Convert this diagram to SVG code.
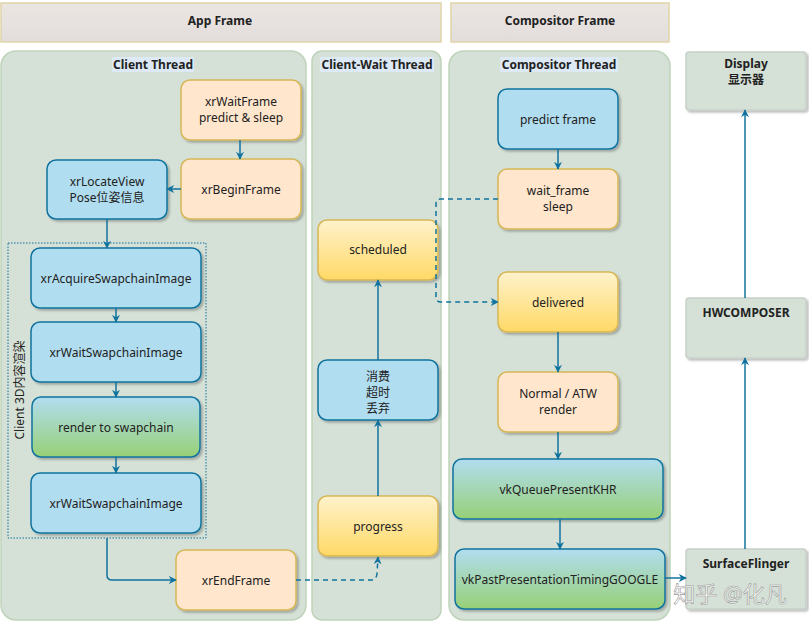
<svg xmlns="http://www.w3.org/2000/svg" width="809" height="625" viewBox="0 0 809 625">
<defs>
  <linearGradient id="gYellow" x1="0" y1="0" x2="0" y2="1"><stop offset="0" stop-color="#fff2cc"/><stop offset="1" stop-color="#ffd966"/></linearGradient>
  <linearGradient id="gGreen" x1="0" y1="0" x2="0" y2="1"><stop offset="0" stop-color="#b1ddf0"/><stop offset="1" stop-color="#97d077"/></linearGradient>
  <linearGradient id="gFrame" x1="0" y1="0" x2="0" y2="1"><stop offset="0" stop-color="#ece6e2"/><stop offset="1" stop-color="#e2dcdc"/></linearGradient>
  <filter id="sh" x="-10%" y="-10%" width="130%" height="130%"><feDropShadow dx="2" dy="2" stdDeviation="1.2" flood-color="#000" flood-opacity="0.25"/></filter>
  <marker id="ah" viewBox="0 0 10 10" refX="9" refY="5" markerWidth="8" markerHeight="8" markerUnits="userSpaceOnUse" orient="auto"><path d="M0,0 L10,5 L0,10 L3,5 Z" fill="#10739e"/></marker>
</defs>
<style>
  text{font-family:"Noto Sans","Noto Sans CJK SC",sans-serif;font-size:12px;fill:#222;text-anchor:middle;}
  .b{font-weight:bold;}
  .frame{fill:url(#gFrame);stroke:#e0d4a8;stroke-width:1.5;}
  .lane{fill:#d5e0d6;stroke:#bfd3bb;stroke-width:1.5;}
  .orange{fill:#ffe6cc;stroke:#d6b656;stroke-width:1.5;filter:url(#sh);}
  .yellow{fill:url(#gYellow);stroke:#d6b656;stroke-width:1.5;filter:url(#sh);}
  .blue{fill:#b1ddf0;stroke:#10739e;stroke-width:1.5;filter:url(#sh);}
  .green{fill:url(#gGreen);stroke:#10739e;stroke-width:1.5;filter:url(#sh);}
  .grey{fill:#d5e0d6;stroke:#c8cfc8;stroke-width:1.5;filter:url(#sh);}
  .c{fill:none;stroke:#10739e;stroke-width:1.5;marker-end:url(#ah);}
  .d{stroke-dasharray:5,4;}
  .tbg{fill:#dde9f5;}
</style>

<g id="app-frame"><rect class="frame" x="1" y="3" width="440" height="39"/><text class="b" x="220" y="25">App Frame</text></g>
<g id="compositor-frame"><rect class="frame" x="451" y="3" width="218" height="39"/><text class="b" x="560" y="25">Compositor Frame</text></g>

<g id="client-thread"><rect class="lane" x="1" y="51" width="305" height="569" rx="15"/><rect class="tbg" x="112" y="57" width="82" height="15"/><text class="b" x="153" y="69">Client Thread</text></g>
<g id="client-wait-thread"><rect class="lane" x="312" y="51" width="129" height="569" rx="10"/><rect class="tbg" x="320" y="57" width="114" height="15"/><text class="b" x="377" y="69">Client-Wait Thread</text></g>
<g id="compositor-thread"><rect class="lane" x="449" y="51" width="221" height="569" rx="15"/><rect class="tbg" x="500" y="57" width="118" height="15"/><text class="b" x="559" y="69">Compositor Thread</text></g>

<g id="client-3d-group"><rect x="8" y="243" width="198" height="295" fill="none" stroke="#10739e" stroke-width="1" stroke-dasharray="1.5,1.5"/><text x="0" y="0" transform="translate(24,390) rotate(-90)">Client 3D内容渲染</text></g>

<g id="xrWaitFrame"><rect class="orange" x="181" y="80" width="120" height="60" rx="9"/><text x="241" y="106">xrWaitFrame</text><text x="241" y="122">predict &amp; sleep</text></g>
<g id="xrBeginFrame"><rect class="orange" x="181" y="159" width="120" height="60" rx="9"/><text x="241" y="194">xrBeginFrame</text></g>
<g id="xrLocateView"><rect class="blue" x="47" y="160" width="120" height="59" rx="9"/><text x="107" y="186">xrLocateView</text><text x="107" y="202">Pose位姿信息</text></g>
<g id="xrAcquireSwapchainImage"><rect class="blue" x="31" y="248" width="170" height="60" rx="9"/><text x="116" y="283">xrAcquireSwapchainImage</text></g>
<g id="xrWaitSwapchainImage1"><rect class="blue" x="31" y="322" width="170" height="60" rx="9"/><text x="116" y="357">xrWaitSwapchainImage</text></g>
<g id="render-to-swapchain"><rect class="green" x="32" y="397" width="168" height="60" rx="9"/><text x="116" y="432">render to swapchain</text></g>
<g id="xrWaitSwapchainImage2"><rect class="blue" x="31" y="473" width="170" height="60" rx="9"/><text x="116" y="508">xrWaitSwapchainImage</text></g>
<g id="xrEndFrame"><rect class="orange" x="176" y="550" width="120" height="60" rx="9"/><text x="236" y="585">xrEndFrame</text></g>

<g id="scheduled"><rect class="yellow" x="318" y="220" width="120" height="60" rx="9"/><text x="378" y="254">scheduled</text></g>
<g id="consume"><rect class="blue" x="318" y="360" width="120" height="60" rx="9"/><text x="378" y="381">消费</text><text x="378" y="397">超时</text><text x="378" y="413">丢弃</text></g>
<g id="progress"><rect class="yellow" x="318" y="496" width="120" height="60" rx="9"/><text x="378" y="531">progress</text></g>

<g id="predict-frame"><rect class="blue" x="498" y="89" width="120" height="60" rx="9"/><text x="558" y="124">predict frame</text></g>
<g id="wait-frame"><rect class="orange" x="498" y="169" width="120" height="60" rx="9"/><text x="558" y="195">wait_frame</text><text x="558" y="211">sleep</text></g>
<g id="delivered"><rect class="yellow" x="498" y="272" width="120" height="60" rx="9"/><text x="558" y="307">delivered</text></g>
<g id="normal-atw"><rect class="orange" x="498" y="372" width="120" height="60" rx="9"/><text x="558" y="398">Normal / ATW</text><text x="558" y="414">render</text></g>
<g id="vkQueuePresentKHR"><rect class="green" x="453" y="459" width="210" height="60" rx="9"/><text x="558" y="494">vkQueuePresentKHR</text></g>
<g id="vkPastPresentationTimingGOOGLE"><rect class="green" x="455" y="549" width="210" height="60" rx="9"/><text x="560" y="584">vkPastPresentationTimingGOOGLE</text></g>

<g id="display"><rect class="grey" x="686" y="52" width="120" height="58" rx="3"/><text class="b" x="746" y="68">Display</text><text class="b" x="746" y="84">显示器</text></g>
<g id="hwcomposer"><rect class="grey" x="686" y="298" width="120" height="60" rx="3"/><text class="b" x="746" y="317">HWCOMPOSER</text></g>
<g id="surfaceflinger"><rect class="grey" x="686" y="549" width="120" height="60" rx="3"/><text class="b" x="746" y="568">SurfaceFlinger</text></g>

<g id="connectors">
  <path class="c" d="M240,140 V159"/>
  <path class="c" d="M181,189 H167"/>
  <path class="c" d="M107,219 V248"/>
  <path class="c" d="M116,308 V322"/>
  <path class="c" d="M116,382 V397"/>
  <path class="c" d="M116,457 V473"/>
  <path class="c" d="M107,538 V575 Q107,580 112,580 H176"/>
  <path class="c d" d="M296,580 H372 Q376,580 377,574 L378,557"/>
  <path class="c" d="M378,496 V420"/>
  <path class="c" d="M378,360 V280"/>
  <path class="c d" d="M498,199 H441 Q436,199 436,204 V297 Q436,302 441,302 H498"/>
  <path class="c" d="M558,149 V169"/>
  <path class="c" d="M558,332 V372"/>
  <path class="c" d="M558,432 V459"/>
  <path class="c" d="M560,519 V549"/>
  <path class="c" d="M665,578 H686"/>
  <path class="c" d="M745,549 V358"/>
  <path class="c" d="M745,298 V110"/>
</g>

<text x="730" y="602" style="font-size:22px;fill:#ffffff;fill-opacity:0.85;stroke:#9a9a9a;stroke-width:0.6;">知乎 @化凡</text>
</svg>
